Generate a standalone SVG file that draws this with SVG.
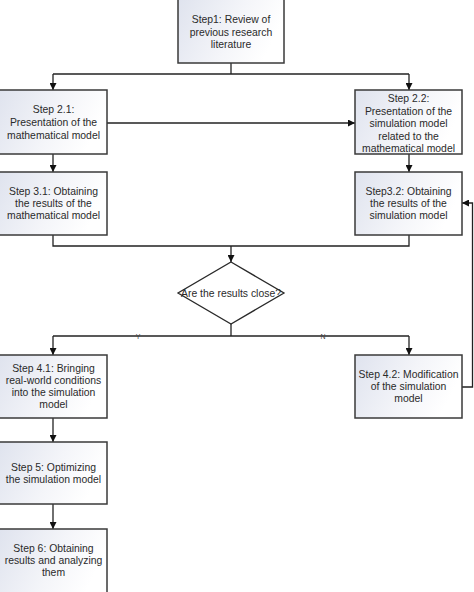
<svg xmlns="http://www.w3.org/2000/svg" width="474" height="592" viewBox="0 0 474 592">
<defs>
<linearGradient id="g" x1="0" y1="0" x2="1" y2="0.3">
<stop offset="0" stop-color="#dfe3ee"/>
<stop offset="0.6" stop-color="#f4f5f9"/>
<stop offset="1" stop-color="#ffffff"/>
</linearGradient>
<marker id="a" viewBox="0 0 10 10" refX="10" refY="5" markerWidth="7" markerHeight="7" markerUnits="userSpaceOnUse" orient="auto">
<path d="M0,0 L10,5 L0,10 z" fill="#111"/>
</marker>
</defs>
<style>
.box{fill:url(#g);stroke:#3a3a3a;stroke-width:1.5}
.t{font-family:"Liberation Sans",Arial,sans-serif;font-size:10.4px;fill:#2a2a2a;text-anchor:middle}
.c{fill:none;stroke:#222;stroke-width:1.3}
.lbl{font-family:"Liberation Sans",Arial,sans-serif;font-size:7px;fill:#444;text-anchor:middle}
</style>
<rect width="474" height="592" fill="#fff"/>
<g id="connectors">
<path class="c" d="M231,63 V74"/>
<path class="c" d="M53,74 H409"/>
<path class="c" d="M53,74 V90" marker-end="url(#a)"/>
<path class="c" d="M409,74 V90" marker-end="url(#a)"/>
<path class="c" d="M107,123 H355" marker-end="url(#a)"/>
<path class="c" d="M53,154 V172" marker-end="url(#a)"/>
<path class="c" d="M409,154 V172" marker-end="url(#a)"/>
<path class="c" d="M53,235 V246 H409 V235"/>
<path class="c" d="M231,246 V262" marker-end="url(#a)"/>
<path class="c" d="M231,324 V336"/>
<path class="c" d="M53,336 H409"/>
<path class="c" d="M53,336 V355" marker-end="url(#a)"/>
<path class="c" d="M409,336 V355" marker-end="url(#a)"/>
<path class="c" d="M53,418 V442" marker-end="url(#a)"/>
<path class="c" d="M53,504 V529" marker-end="url(#a)"/>
<path class="c" d="M462,387 H472.5 V203 H462" marker-end="url(#a)"/>
<text class="lbl" x="138" y="338.5">Y</text>
<text class="lbl" x="323" y="338.5">N</text>
</g>
<g id="step1">
<rect class="box" x="178" y="-1" width="106" height="64"/>
<text class="t" x="231" y="23">Step1: Review of</text>
<text class="t" x="231" y="35.5">previous research</text>
<text class="t" x="231" y="48">literature</text>
</g>
<g id="step2-1">
<rect class="box" x="-1" y="90" width="108" height="64"/>
<text class="t" x="53.5" y="113">Step 2.1:</text>
<text class="t" x="53.5" y="126">Presentation of the</text>
<text class="t" x="53.5" y="139">mathematical model</text>
</g>
<g id="step2-2">
<rect class="box" x="355" y="90" width="107" height="64"/>
<text class="t" x="408.5" y="102">Step 2.2:</text>
<text class="t" x="408.5" y="114.5">Presentation of the</text>
<text class="t" x="408.5" y="127">simulation model</text>
<text class="t" x="408.5" y="139.5">related to the</text>
<text class="t" x="408.5" y="152">mathematical model</text>
</g>
<g id="step3-1">
<rect class="box" x="-1" y="172" width="108" height="63"/>
<text class="t" x="53.5" y="195">Step 3.1: Obtaining</text>
<text class="t" x="53.5" y="207">the results of the</text>
<text class="t" x="53.5" y="219">mathematical model</text>
</g>
<g id="step3-2">
<rect class="box" x="355" y="172" width="107" height="63"/>
<text class="t" x="408.5" y="195">Step3.2: Obtaining</text>
<text class="t" x="408.5" y="207">the results of the</text>
<text class="t" x="408.5" y="219">simulation model</text>
</g>
<g id="decision">
<path d="M231,262 L284,293 L231,324 L178,293 Z" fill="#fff" stroke="#2a2a2a" stroke-width="1.3"/>
<text class="t" x="231" y="297">Are the results close?</text>
</g>
<g id="step4-1">
<rect class="box" x="-1" y="355" width="108" height="63"/>
<text class="t" x="53.5" y="372">Step 4.1: Bringing</text>
<text class="t" x="53.5" y="384">real-world conditions</text>
<text class="t" x="53.5" y="396">into the simulation</text>
<text class="t" x="53.5" y="408">model</text>
</g>
<g id="step4-2">
<rect class="box" x="355" y="355" width="107" height="63"/>
<text class="t" x="408.5" y="378">Step 4.2: Modification</text>
<text class="t" x="408.5" y="390">of the simulation</text>
<text class="t" x="408.5" y="402">model</text>
</g>
<g id="step5">
<rect class="box" x="-1" y="442" width="108" height="62"/>
<text class="t" x="53.5" y="471">Step 5: Optimizing</text>
<text class="t" x="53.5" y="483">the simulation model</text>
</g>
<g id="step6">
<rect class="box" x="-1" y="529" width="108" height="66"/>
<text class="t" x="53.5" y="552">Step 6: Obtaining</text>
<text class="t" x="53.5" y="564">results and analyzing</text>
<text class="t" x="53.5" y="576">them</text>
</g>
</svg>
